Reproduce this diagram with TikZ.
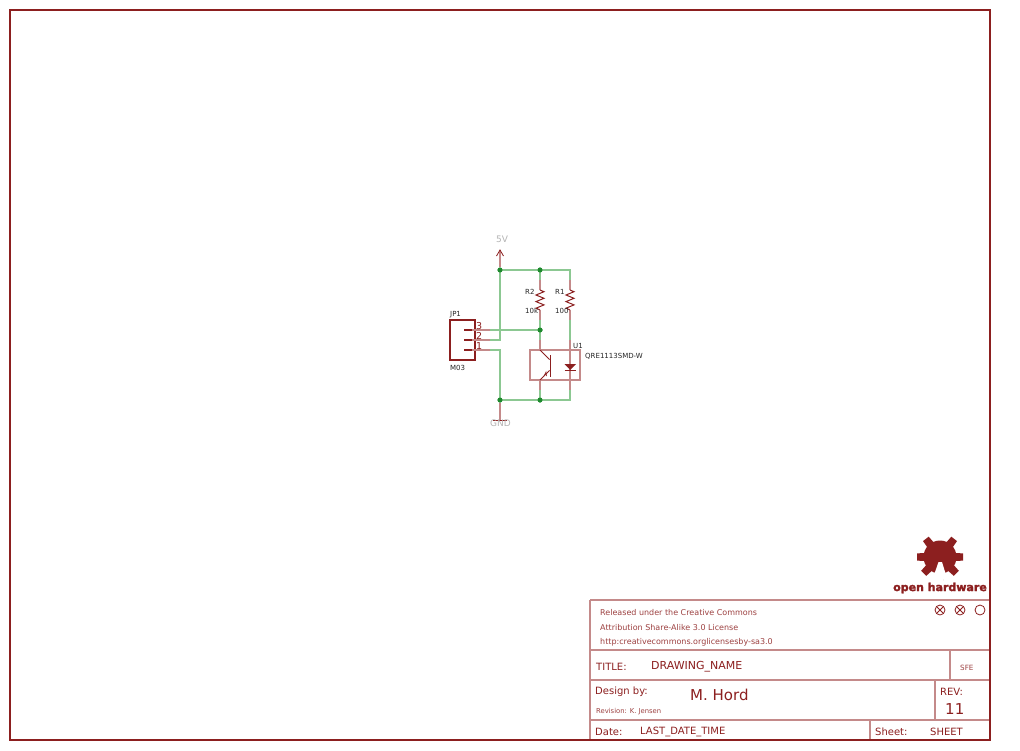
\documentclass[tikz,border=0pt]{standalone}
\usepackage{fontspec}
\setmainfont{DejaVu Sans}
\newfontfamily\logofont[FakeBold=2]{DejaVu Sans Bold}
\usetikzlibrary{arrows.meta}
\definecolor{sheetred}{HTML}{8C1F1F}
\definecolor{softred}{HTML}{C48A8A}
\definecolor{wiregreen}{HTML}{8CC892}
\definecolor{dotgreen}{HTML}{1E8A2E}
\definecolor{supplygray}{HTML}{B4B4B4}
\tikzset{
  wire/.style={wiregreen,line width=1.3pt},
  pin/.style={softred,line width=1.3pt},
  part/.style={sheetred,line width=0.8pt},
  sheetline/.style={softred,line width=1.3pt},
  dot/.style={circle,fill=dotgreen,inner sep=0pt,minimum size=5pt},
  tiny/.style={right,inner sep=0pt,black!85,font=\fontsize{7}{8}\selectfont},
  sheettext/.style={right,inner sep=0pt,sheetred,font=\fontsize{10}{12}\selectfont},
  smalltext/.style={right,inner sep=0pt,sheetred!85,font=\fontsize{8}{9}\selectfont},
  supply/.style={right,inner sep=0pt,supplygray,font=\fontsize{9}{10}\selectfont}
}
\begin{document}
\begin{tikzpicture}[x=1pt,y=-1pt]
    \useasboundingbox (0,0) rectangle (1020,750);
    \fill[white] (0,0) rectangle (1020,750);

    % sheet frame
    \coordinate (tl) at (590,600);
    \coordinate (tr) at (990,600);
    \coordinate (bl) at (590,740);
    \draw[sheetline] (tl) -- (tr);
    \draw[sheetline] (tl) -- (bl);
    \draw[sheetline] (590,650) -- (990,650);
    \draw[sheetline] (590,680) -- (990,680);
    \draw[sheetline] (590,720) -- (990,720);
    \draw[sheetline] (950,650) -- (950,680);
    \draw[sheetline] (935,680) -- (935,720);
    \draw[sheetline] (870,720) -- (870,740);
    \draw[sheetred,line width=2pt] (10,10) rectangle (990,740);

    % title block
    \node[smalltext] (line1) at (600,612.5) {Released under the Creative Commons};
    \node[smalltext] (line2) at (600,627.5) {Attribution Share-Alike 3.0 License};
    \node[smalltext] (line3) at (600,642.5) {http:creativecommons.orglicensesby-sa3.0};
    \node[sheettext] (title) at (596,666.5) {TITLE:};
    \node[sheettext,font=\fontsize{11}{12}\selectfont] (drawing) at (651,666.5) {DRAWING\_NAME};
    \node[smalltext,font=\fontsize{7.2}{8}\selectfont] (sfe) at (960,667.5) {SFE};
    \node[sheettext] (design) at (595,691.5) {Design by:};
    \node[sheettext,font=\fontsize{15}{16}\selectfont] (author) at (690,695) {M. Hord};
    \node[smalltext,font=\fontsize{6.8}{8}\selectfont] (revision) at (596,712) {Revision: K. Jensen};
    \node[sheettext] (rev) at (940,691.5) {REV:};
    \node[sheettext,font=\fontsize{15}{16}\selectfont] (revnum) at (945,709) {11};
    \node[sheettext] (date) at (595,731.5) {Date:};
    \node[sheettext] (datetime) at (640,731.5) {LAST\_DATE\_TIME};
    \node[sheettext] (sheet) at (875,731.5) {Sheet:};
    \node[sheettext] (sheetname) at (930,731.5) {SHEET};

    % fiducials
    \foreach \x in {940,960} {
      \draw[part] (\x,610) circle (5);
      \draw[part] (\x-3.5,606.5) -- (\x+3.5,613.5);
      \draw[part] (\x-3.5,613.5) -- (\x+3.5,606.5);
    }
    \draw[part] (980,610) circle (5);

    % logo
    \fill[sheetred] (940,557) circle (16.5);
    \foreach \a in {90,45,135,0,180,-52,-128} {
      \fill[sheetred,shift={(940,557)},rotate=-\a] (12,-4.2) -- (23,-3.6) -- (23,3.6) -- (12,4.2) -- cycle;
    }
    \fill[white] (938.5,562) -- (934,575) -- (936,581) -- (943,581) -- (946,575) -- (942,562) -- cycle;
    \node[inner sep=0pt,sheetred,font=\logofont\fontsize{11}{13}\selectfont] (logo) at (940,588) {open hardware};

    % nets
    \coordinate (vcc) at (500,250);
    \node[dot] (top) at (500,270) {};
    \node[dot] (topr) at (540,270) {};
    \coordinate (topc) at (570,270);
    \node[dot] (mid) at (540,330) {};
    \node[dot] (bot) at (500,400) {};
    \node[dot] (botr) at (540,400) {};
    \coordinate (botc) at (570,400);
    \coordinate (gnd) at (500,420);
    \coordinate (p3) at (490,330);
    \coordinate (p2) at (490,340);
    \coordinate (p1) at (490,350);
    \coordinate (r2a) at (540,280);
    \coordinate (r2b) at (540,320);
    \coordinate (r1a) at (570,280);
    \coordinate (r1b) at (570,320);
    \coordinate (qc) at (540,340);
    \coordinate (qe) at (540,390);
    \coordinate (da) at (570,340);
    \coordinate (dc) at (570,390);

    \draw[wire] (top.center) -- (topr.center) -- (topc) -- (r1a);
    \draw[wire] (topr.center) -- (r2a);
    \draw[wire] (r2b) -- (mid.center) -- (qc);
    \draw[wire] (r1b) -- (da);
    \draw[wire] (p3) -- (mid.center);
    \draw[wire] (p2) -| (top.center);
    \draw[wire] (p1) -| (bot.center);
    \draw[wire] (bot.center) -- (botr.center) -- (botc) -- (dc);
    \draw[wire] (botr.center) -- (qe);
    \draw[pin] (bot) -- (gnd);
    \draw[pin] (top) -- (vcc);
    \fill[dotgreen] (top) circle (2.5);
    \fill[dotgreen] (topr) circle (2.5);
    \fill[dotgreen] (mid) circle (2.5);
    \fill[dotgreen] (bot) circle (2.5);
    \fill[dotgreen] (botr) circle (2.5);

    % supplies
    \draw[part] (496.5,256) -- (vcc) -- (503.5,256);
    \draw[part] (493,420) -- (507,420);
    \node[supply] (fivev) at (496,239) {5V};
    \node[supply] (gndlabel) at (490,423) {GND};

    % connector
    \draw[sheetred,line width=2pt] (450,320) rectangle (475,360);
    \foreach \y/\n in {330/3,340/2,350/1} {
      \draw[pin] (472,\y) -- (490,\y);
      \draw[sheetred,line width=1.6pt] (464,\y) -- (472,\y);
      \node[right,inner sep=0pt,sheetred,font=\fontsize{9.5}{10}\selectfont] (pin\n) at (476,\y-4) {\n};
    }
    \node[tiny] (jp) at (450,315) {JP1};
    \node[tiny] (conn) at (450,368) {M03};

    % resistors
    \foreach \x in {540,570} {
      \draw[pin] (\x,280) -- (\x,290);
      \draw[pin] (\x,310) -- (\x,320);
      \draw[part,line width=1pt] (\x,290) -- ++(4,1.7) -- ++(-8,3.3) -- ++(8,3.3) -- ++(-8,3.3) -- ++(8,3.3) -- ++(-8,3.3) -- ++(4,1.7);
    }
    \node[tiny] (r2) at (525,292) {R2};
    \node[tiny] (r2val) at (525,311) {10k};
    \node[tiny] (r1) at (555,292) {R1};
    \node[tiny] (r1val) at (555,311) {100};

    % sensor
    \draw[sheetline] (530,350) rectangle (580,380);
    \draw[pin] (qc) -- (540,350);
    \draw[pin] (da) -- (570,350);
    \draw[pin] (540,380) -- (qe);
    \draw[pin] (570,380) -- (dc);
    \draw[pin] (570,350) -- (570,380);
    \draw[part] (540,350) -- (549.5,359.5);
    \draw[part] (540,380) -- (549.5,370.5);
    \draw[part,line width=1pt] (550,355) -- (550,377);
    \draw[part,line width=0.6pt] (544,376) -- (546,372) -- (546.5,376);
    \fill[sheetred] (564.5,364) -- (576,364) -- (570.2,370) -- cycle;
    \draw[sheetred,line width=1pt] (564.5,370.5) -- (576,370.5);
    \node[tiny] (u1) at (573,346) {U1};
    \node[tiny] (device) at (585,356) {QRE1113SMD-W};
  \end{tikzpicture}
\end{document}
